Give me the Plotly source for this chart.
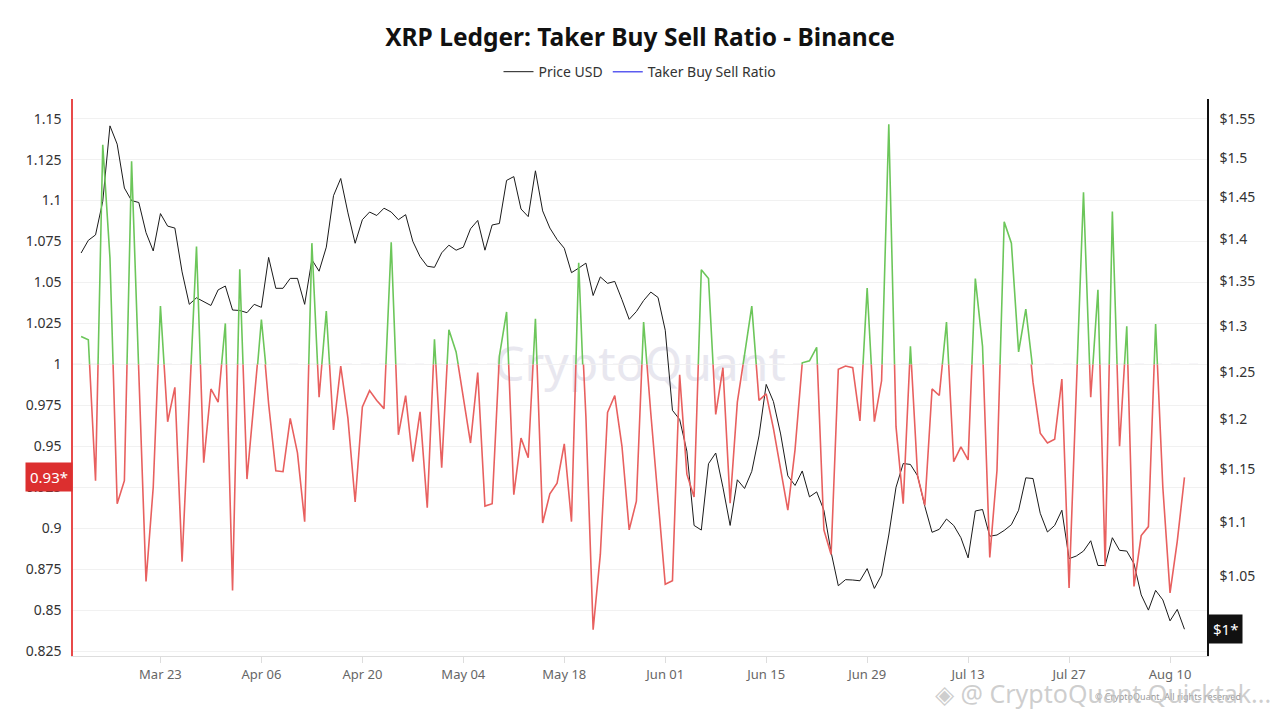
import numpy as np
import pandas as pd
import plotly.graph_objects as go

# daily values, Mar 12 -> Aug 12
dates = pd.date_range("2025-03-12", periods=154, freq="D")

ratio = [
    1.017, 1.015, 0.929, 1.134, 1.065, 0.915, 0.929, 1.124, 0.995, 0.8675,
    0.925, 1.0356, 0.965, 0.986, 0.8796, 0.975, 1.072, 0.940, 0.985, 0.977,
    1.025, 0.862, 1.058, 0.930, 0.975, 1.0274, 0.976, 0.935, 0.9345, 0.967,
    0.946, 0.904, 1.074, 0.980, 1.0326, 0.960, 0.999, 0.967, 0.916, 0.974,
    0.984, 0.978, 0.973, 1.0746, 0.957, 0.981, 0.9406, 0.971, 0.9125, 1.0153,
    0.937, 1.0211, 1.0076, 0.981, 0.952, 0.995, 0.9135, 0.915, 1.005, 1.032,
    0.9205, 0.955, 0.943, 1.0279, 0.9032, 0.921, 0.9275, 0.9515, 0.904, 1.062,
    0.968, 0.838, 0.884, 0.9707, 0.981, 0.950, 0.899, 0.9165, 1.0258, 0.970,
    0.920, 0.8658, 0.868, 0.9936, 0.933, 0.919, 1.0578, 1.0524, 0.9695, 0.998,
    0.9153, 0.977, 1.006, 1.0356, 0.978, 0.982, 0.961, 0.935, 0.911, 0.948,
    1.001, 1.0022, 1.0104, 0.899, 0.884, 0.997, 0.999, 0.998, 0.9655, 1.0466,
    0.965, 0.990, 1.1465, 0.962, 0.915, 1.011, 0.9317, 0.914, 0.985, 0.981,
    1.0258, 0.9406, 0.9497, 0.9417, 1.0524, 1.011, 0.8822, 0.9352, 1.087, 1.074,
    1.0076, 1.0337, 0.989, 0.958, 0.952, 0.9543, 0.991, 0.8635, 0.985, 1.105,
    0.980, 1.0456, 0.8768, 1.0933, 0.950, 1.0232, 0.8645, 0.8955, 0.901, 1.0246,
    0.925, 0.8605, 0.892, 0.931,
]

price = [
    1.383, 1.398, 1.4045, 1.4452, 1.5412, 1.5174, 1.4617, 1.4461, 1.4438, 1.4072,
    1.3854, 1.4302, 1.4150, 1.4127, 1.3609, 1.3238, 1.3312, 1.3268, 1.3225, 1.3402,
    1.3446, 1.3174, 1.3169, 1.3144, 1.3238, 1.3204, 1.3778, 1.3420, 1.3420, 1.3534,
    1.3534, 1.3238, 1.3751, 1.3617, 1.3899, 1.4522, 1.4736, 1.4311, 1.3945, 1.4228,
    1.4321, 1.4279, 1.4368, 1.4321, 1.4228, 1.4289, 1.3967, 1.3787, 1.3675, 1.3662,
    1.3832, 1.3922, 1.3863, 1.3899, 1.4118, 1.4219, 1.3863, 1.4164, 1.4182, 1.4712,
    1.4760, 1.4358, 1.4265, 1.4833, 1.4335, 1.4127, 1.3990, 1.3886, 1.3600, 1.3653,
    1.3711, 1.3338, 1.3551, 1.3477, 1.3499, 1.3290, 1.3070, 1.3157, 1.3281, 1.3377,
    1.3316, 1.2949, 1.2095, 1.2001, 1.1682, 1.0965, 1.0922, 1.1557, 1.1663, 1.1327,
    1.0965, 1.1400, 1.1316, 1.1482, 1.1834, 1.2365, 1.2186, 1.1854, 1.1438, 1.1345,
    1.1486, 1.1235, 1.1283, 1.1108, 1.0718, 1.0416, 1.0470, 1.0467, 1.0460, 1.0569,
    1.0392, 1.0511, 1.0876, 1.1327, 1.1559, 1.1550, 1.1438, 1.1144, 1.0901, 1.0929,
    1.1025, 1.0965, 1.0851, 1.0666, 1.1101, 1.1115, 1.0865, 1.0876, 1.0918, 1.0972,
    1.1108, 1.1419, 1.1412, 1.1079, 1.0904, 1.0965, 1.1108, 1.0659, 1.0683, 1.0728,
    1.0823, 1.0597, 1.0597, 1.0851, 1.0735, 1.0728, 1.0614, 1.0335, 1.0202, 1.0375,
    1.0291, 1.0109, 1.0208, 1.0037,
]

ratio_ticks = [0.825, 0.85, 0.875, 0.9, 0.925, 0.95, 0.975, 1, 1.025, 1.05, 1.075, 1.1, 1.125, 1.15]
price_ticks = [1.05, 1.1, 1.15, 1.2, 1.25, 1.3, 1.35, 1.4, 1.45, 1.5, 1.55]

RED = "#e8605f"
GREEN = "#6cc65a"
FONT = "Noto Sans"

r_lo, r_hi = 0.822, 1.162
split = (1 - r_lo) / (r_hi - r_lo)

fig = go.Figure()

# price on log right axis
fig.add_trace(go.Scatter(x=dates, y=price, mode="lines", name="Price USD",
                         line=dict(color="#1a1a1a", width=1), yaxis="y4"))

# ratio drawn twice: green clipped above 1, red clipped below 1
fig.add_trace(go.Scatter(x=dates, y=ratio, mode="lines", showlegend=False,
                         line=dict(color=GREEN, width=1.6), yaxis="y2"))
fig.add_trace(go.Scatter(x=dates, y=ratio, mode="lines", showlegend=False,
                         line=dict(color=RED, width=1.6), yaxis="y3"))
# legend entry for ratio
fig.add_trace(go.Scatter(x=[None], y=[None], mode="lines", name="Taker Buy Sell Ratio",
                         line=dict(color="#5c5cf0", width=1.5)))

# page body adds an 8px offset, margins compensate for it
fig.update_layout(
    width=1280, height=720,
    paper_bgcolor="white", plot_bgcolor="rgba(0,0,0,0)",
    font=dict(family=FONT, color="#333333", size=14),
    margin=dict(l=65, r=81, t=91, b=72, autoexpand=False),
    title=dict(text="<b>XRP Ledger: Taker Buy Sell Ratio - Binance</b>", x=0.4938, y=0.9597,
               xanchor="center", yanchor="middle", font=dict(size=24.5, color="#111111")),
    legend=dict(orientation="h", x=0.5, xanchor="center", yref="container", y=0.911,
                yanchor="middle", font=dict(size=14, color="#333333"),
                itemwidth=30, tracegroupgap=0),
    xaxis=dict(range=["2025-03-10 21:00", "2025-08-15 03:00"], type="date",
               tick0="2025-03-23", dtick=14 * 86400000, tickformat="%b %d",
               showgrid=False, showline=True, linecolor="#dddddd", linewidth=1,
               ticks="outside", ticklen=6, tickcolor="#dddddd", automargin=False,
               tickfont=dict(size=13, color="#666666"), anchor="y"),
    yaxis=dict(range=[r_lo, r_hi], tickvals=ratio_ticks,
               ticktext=[f"{v:g}" for v in ratio_ticks],
               showgrid=True, gridcolor="#f1f1f1", zeroline=False,
               showline=True, linecolor="#e84a4a", linewidth=1.5, automargin=False,
               ticks="", ticklabelstandoff=7, tickfont=dict(size=14, color="#333333")),
    yaxis2=dict(domain=[split, 1], range=[1, r_hi], visible=False, anchor="x",
                automargin=False),
    yaxis3=dict(domain=[0, split], range=[r_lo, 1], visible=False, anchor="x",
                automargin=False),
    yaxis4=dict(overlaying="y", side="right", type="log",
                range=[-0.0083, 0.1978], tickvals=price_ticks,
                ticktext=[f"${v:g}" for v in price_ticks],
                showgrid=False, zeroline=False, showline=True, automargin=False,
                linecolor="#111111", linewidth=1.5, ticks="", ticklabelstandoff=8,
                tickfont=dict(size=14, color="#333333")),
    showlegend=True,
)

# reference line at ratio 1
fig.add_shape(type="line", xref="paper", x0=0, x1=1, yref="y", y0=1, y1=1,
              line=dict(color="#b8b6cc", width=1, dash="dash"), layer="below")

# watermark
fig.add_shape(type="rect", xref="paper", yref="paper", x0=0.3, x1=0.7, y0=0.421, y1=0.621,
              line=dict(width=0), fillcolor="rgba(0,0,0,0)", layer="below",
              label=dict(text="CryptoQuant", font=dict(size=48, color="#e8e7ef", family=FONT)))

# last value labels
fig.add_annotation(xref="paper", x=0, xanchor="right", yref="y", y=ratio[-1],
                   text=f"{ratio[-1]:.2f}*", showarrow=False, bgcolor="#dc2f2f",
                   font=dict(color="white", size=15), borderpad=4)
fig.add_annotation(xref="paper", x=1, xanchor="left", yref="y4", y=np.log10(price[-1]),
                   text=f"${price[-1]:.2g}*", showarrow=False, bgcolor="#111111",
                   font=dict(color="white", size=15), borderpad=4, xshift=1)

# footer texts
fig.add_annotation(xref="paper", yref="paper", x=0.966, y=-0.0736, xanchor="center", yanchor="middle",
                   text="© CryptoQuant. All rights reserved", showarrow=False,
                   font=dict(size=9, color="#9a9a9a"))
fig.add_annotation(xref="paper", yref="paper", x=1.058, y=-0.066, xanchor="right", yanchor="middle",
                   text="◈ @ CryptoQuant Quicktak...", showarrow=False,
                   font=dict(size=25, color="rgba(190,190,190,0.75)"))

fig.write_html("out.html")
